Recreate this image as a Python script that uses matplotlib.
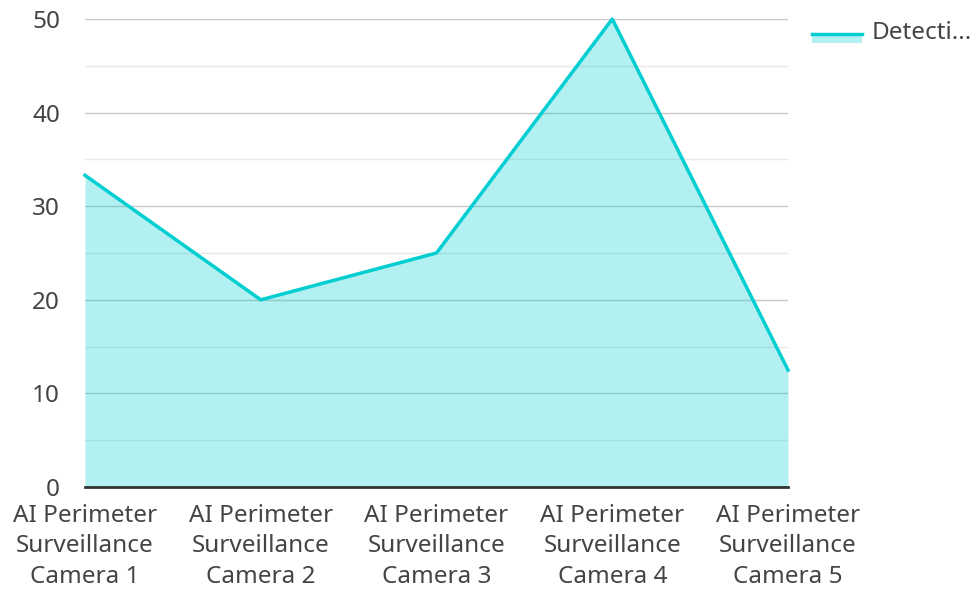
import matplotlib.pyplot as plt
from matplotlib.patches import Rectangle
from matplotlib.lines import Line2D

plt.rcParams['font.family'] = ['Noto Sans', 'DejaVu Sans']

cameras = ['AI Perimeter\nSurveillance\nCamera 1', 'AI Perimeter\nSurveillance\nCamera 2',
           'AI Perimeter\nSurveillance\nCamera 3', 'AI Perimeter\nSurveillance\nCamera 4',
           'AI Perimeter\nSurveillance\nCamera 5']
detections = [33.3, 20, 25, 50, 12.5]
legend_label = 'Detecti...'

line_color = '#00CED1'
text_color = '#444444'
fsize = 17.5

W, H = 974, 589
fig = plt.figure(figsize=(W / 100, H / 100), dpi=100)
ax = fig.add_axes([85 / W, 1 - 487 / H, (788 - 85) / W, (487 - 19) / H])

x = list(range(len(detections)))
ax.fill_between(x, detections, 0, color=line_color, alpha=0.3, linewidth=0, zorder=2)
ax.plot(x, detections, color=line_color, linewidth=2.5, zorder=3, clip_on=False)

ax.set_xlim(0, len(detections) - 1)
ax.set_ylim(0, 50)
ax.set_yticks(range(0, 51, 10))
ax.set_yticks(range(5, 50, 10), minor=True)
ax.grid(axis='y', which='major', color='#c8c8c8', linewidth=1, zorder=1)
ax.grid(axis='y', which='minor', color='#e8e8e8', linewidth=1, zorder=1)
ax.set_axisbelow(True)

ax.set_xticks(x)
ax.set_xticklabels(cameras, linespacing=1.36)
ax.tick_params(axis='both', which='both', length=0, labelsize=fsize, colors=text_color)
ax.tick_params(axis='x', pad=12)
ax.tick_params(axis='y', pad=18)
for s in ['left', 'right', 'top']:
    ax.spines[s].set_visible(False)
ax.spines['bottom'].set_color('#333333')
ax.spines['bottom'].set_linewidth(2)
ax.spines['bottom'].set_zorder(4)

# legend drawn by hand: line on top of the fill swatch
fig.patches.append(Rectangle((812 / W, 1 - 43 / H), 50 / W, 10 / H,
                             transform=fig.transFigure, facecolor=line_color, alpha=0.3, linewidth=0))
fig.lines.append(Line2D([812 / W, 862 / W], [1 - 34 / H, 1 - 34 / H],
                        transform=fig.transFigure, color=line_color, linewidth=2.5))
fig.text(872 / W, 1 - 33 / H, legend_label, fontsize=fsize, color=text_color, va='center', ha='left')

fig.savefig('out.png', dpi=100)
